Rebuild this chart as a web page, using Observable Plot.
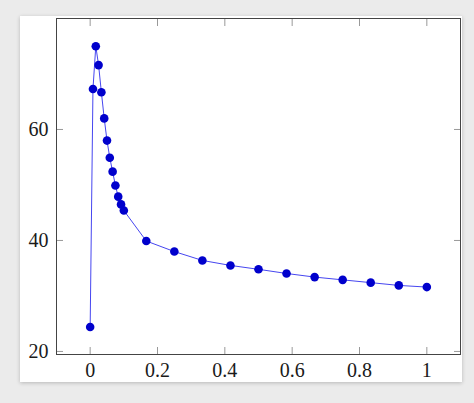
<!DOCTYPE html>
<html><head><meta charset="utf-8">
<script src="https://cdn.jsdelivr.net/npm/d3@7"></script>
<script src="https://cdn.jsdelivr.net/npm/@observablehq/plot@0.6"></script>
<style>
html,body{margin:0;padding:0;background:#ebebeb;}
#wrap{position:relative;width:474px;height:403px;overflow:hidden;}
#panel{position:absolute;left:20px;top:16px;width:442px;height:366px;background:#fff;box-shadow:0 1px 4px rgba(0,0,0,0.22);}
#chart{position:absolute;left:0;top:0;}
#chart svg text{font-family:"Liberation Serif",serif !important;font-size:20px !important;}
</style></head><body>
<div id="wrap"><div id="panel"></div><div id="chart"></div></div>
<script>
const xValues = [0, 0.0083, 0.0167, 0.025, 0.0333, 0.0417, 0.05, 0.0583, 0.0667, 0.075, 0.0833, 0.0917, 0.1,
  0.1667, 0.25, 0.3333, 0.4167, 0.5, 0.5833, 0.6667, 0.75, 0.8333, 0.9167, 1];
const yValues = [24.4, 67.3, 75.0, 71.6, 66.7, 62.0, 58.0, 54.9, 52.4, 49.9, 47.9, 46.5, 45.4,
  39.9, 38.0, 36.4, 35.5, 34.8, 34.05, 33.4, 32.9, 32.4, 31.9, 31.6];
const xTicks = [0, 0.2, 0.4, 0.6, 0.8, 1];
const yTicks = [20, 40, 60];

const data = xValues.map((x, i) => ({x, y: yValues[i]}));
const fmt = d => String(d);
const serif = "Liberation Serif, serif";

const plot = Plot.plot({
  width: 474, height: 403,
  marginLeft: 56, marginRight: 14, marginTop: 18, marginBottom: 49,
  style: {background: "transparent", fontFamily: serif, fontSize: "20px", color: "#222"},
  x: {domain: [-0.1, 1.1]},
  y: {domain: [19.45, 80.0]},
  marks: [
    Plot.axisX(xTicks, {anchor: "bottom", tickSize: -7, text: null, label: null, stroke: "#999"}),
    Plot.axisX(xTicks, {anchor: "top", tickSize: -7, text: null, label: null, stroke: "#999"}),
    Plot.axisY(yTicks, {anchor: "left", tickSize: -7, text: null, label: null, stroke: "#999"}),
    Plot.axisY(yTicks, {anchor: "right", tickSize: -7, text: null, label: null, stroke: "#999"}),
    Plot.axisX(xTicks, {anchor: "bottom", tickSize: 0, tickPadding: 8, tickFormat: fmt, label: null, fill: "#1a1a1a", fontFamily: serif, fontSize: 20}),
    Plot.axisY(yTicks, {anchor: "left", tickSize: 0, tickPadding: 8, tickFormat: fmt, label: null, fill: "#1a1a1a", fontFamily: serif, fontSize: 20}),
    Plot.frame({stroke: "#444", strokeWidth: 1}),
    Plot.line(data, {x: "x", y: "y", stroke: "#4646f0", strokeWidth: 1}),
    Plot.dot(data, {x: "x", y: "y", r: 4.3, fill: "#0000cc", stroke: "none"})
  ]
});
document.getElementById("chart").appendChild(plot);
</script>
</body></html>
